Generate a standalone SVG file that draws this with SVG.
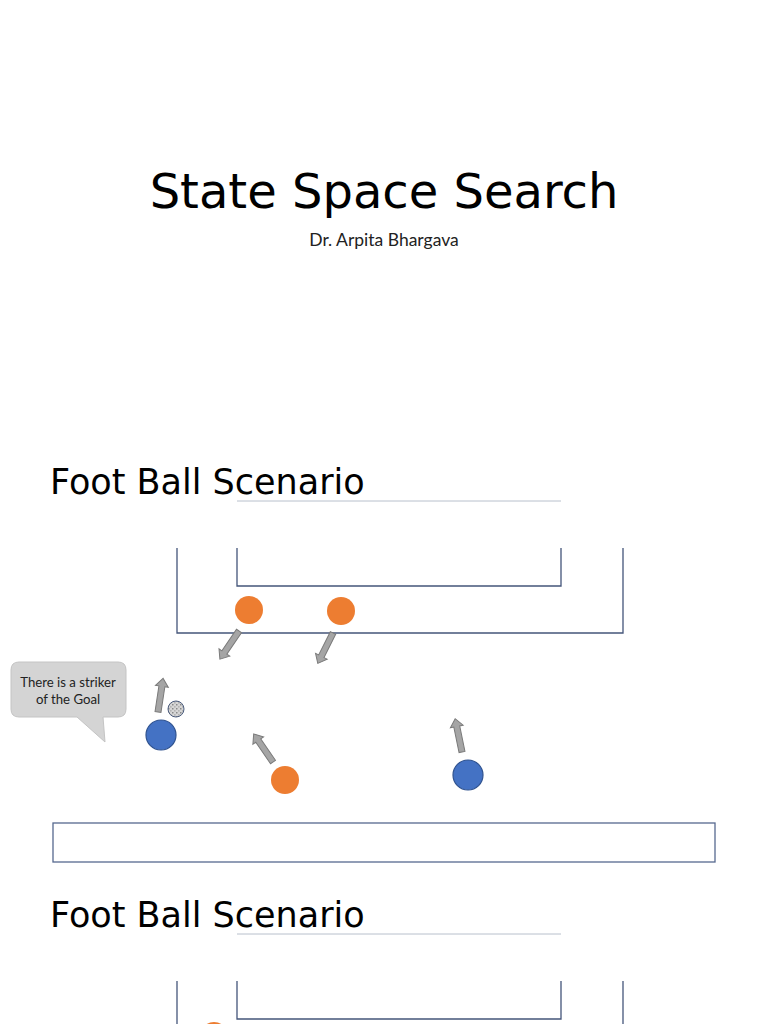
<svg xmlns="http://www.w3.org/2000/svg" width="768" height="1024" viewBox="0 0 768 1024">
<style>
.title{font-family:"DejaVu Sans",sans-serif;fill:#000}
.sub{font-family:Lato,"Open Sans",sans-serif;fill:#222}
.goal{fill:none;stroke:#44557a;stroke-width:1.3}
.rule{stroke:#b8c0cc;stroke-width:1}
.orange{fill:#ED7D31}
.blue{fill:#4472C4;stroke:#2F528F;stroke-width:1.2}
.arrow{fill:#A5A5A5;stroke:#7a7a7a;stroke-width:1}
</style>
<defs>
<path id="arr" class="arrow" d="M0,-3 L26,-3 L26,-6.5 L34,0 L26,6.5 L26,3 L0,3 Z"/>
<pattern id="speck" width="4" height="4" patternUnits="userSpaceOnUse">
<rect width="4" height="4" fill="#d6d6d6"/>
<rect x="0" y="0" width="1.5" height="1.5" fill="#8a8a8a"/>
<rect x="2.2" y="2.2" width="1.3" height="1.3" fill="#a0a0a0"/>
</pattern>
</defs>
<rect width="768" height="1024" fill="#fff"/>

<g id="title-slide">
<text class="title" x="384" y="208" font-size="48" text-anchor="middle">State Space Search</text>
<text class="sub" x="384" y="246" font-size="17.5" text-anchor="middle">Dr. Arpita Bhargava</text>
</g>

<g id="slide1-heading">
<text class="title" x="50" y="494" font-size="35">Foot Ball Scenario</text>
<line class="rule" x1="237" y1="501" x2="561" y2="501"/>
</g>

<g id="goal1">
<path class="goal" d="M177,548 V633 H623 V548"/>
<path class="goal" d="M237,548 V586 H561 V548"/>
</g>

<g id="orange1"><circle class="orange" cx="249" cy="610" r="14"/></g>
<g id="orange2"><circle class="orange" cx="341" cy="611" r="14"/></g>
<g id="orange3"><circle class="orange" cx="285" cy="780" r="14"/></g>
<g id="blue1"><circle class="blue" cx="161" cy="735" r="15"/></g>
<g id="blue2"><circle class="blue" cx="468" cy="775" r="15"/></g>
<g id="ball"><circle cx="176" cy="709" r="8" fill="url(#speck)" stroke="#4a5b7c" stroke-width="1"/></g>

<g id="connectors">
<use href="#arr" transform="translate(239,631) rotate(124.2)"/>
<use href="#arr" transform="translate(333,633) rotate(116.6)"/>
<use href="#arr" transform="translate(273,762) rotate(-124.6)"/>
<use href="#arr" transform="translate(462,752) rotate(-101.6)"/>
<use href="#arr" transform="translate(158,712) rotate(-81.4)"/>
</g>

<g id="speech-bubble">
<path d="M19,662 H118 Q126,662 126,670 V709 Q126,717 118,717 H103 L105,742 L77,717 H19 Q11,717 11,709 V670 Q11,662 19,662 Z" fill="#D4D4D4" stroke="#c4c4c4" stroke-width="1"/>
<text class="sub" x="68" y="687" font-size="13.2" text-anchor="middle">There is a striker</text>
<text class="sub" x="68" y="704" font-size="13.2" text-anchor="middle">of the Goal</text>
</g>

<g id="separator-box">
<rect x="53" y="823" width="662" height="39" fill="#fff" stroke="#56698f" stroke-width="1.3"/>
</g>

<g id="slide2-heading">
<text class="title" x="50" y="927" font-size="35">Foot Ball Scenario</text>
<line class="rule" x1="237" y1="934" x2="561" y2="934"/>
</g>

<g id="goal2">
<path class="goal" d="M177,981 V1030"/>
<path class="goal" d="M623,981 V1030"/>
<path class="goal" d="M237,981 V1019 H561 V981"/>
</g>
<g id="orange4"><circle class="orange" cx="214" cy="1036" r="14"/></g>
<g id="orange5"><circle class="orange" cx="303" cy="1038" r="14" opacity="0.6"/></g>
</svg>
